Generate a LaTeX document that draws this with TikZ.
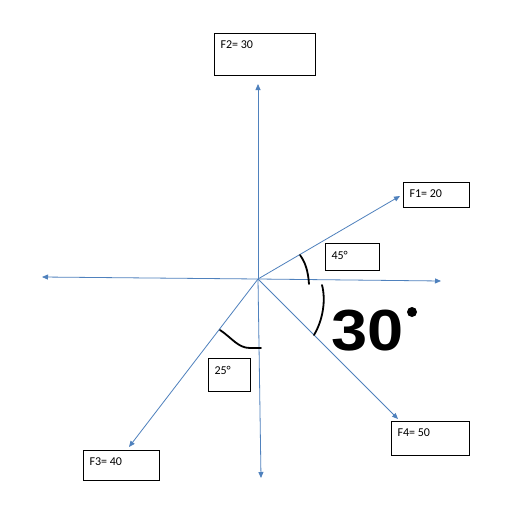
\documentclass[tikz,border=0pt]{standalone}
\usepackage{fontspec}
\setmainfont{Carlito}
\newfontfamily\handfont{Liberation Sans}
\usetikzlibrary{arrows.meta}
\definecolor{axisblue}{RGB}{79,129,189}
\tikzset{
  vec/.style={draw=axisblue, line width=0.8pt, -{Triangle[length=6pt,width=5pt]}},
  box/.style={draw=black, line width=0.8pt, anchor=north west, inner sep=0pt},
  lbl/.style={anchor=west, xshift=3pt, yshift=-12pt, font=\fontsize{12}{14}\selectfont},
  hand/.style={draw=black, line width=1.8pt, line cap=round}
}
\begin{document}
\begin{tikzpicture}[x=1pt,y=-1pt]
\useasboundingbox (0,0) rectangle (526,527);
\fill[white] (0,0) rectangle (526,527);
% origin and arrow ends
\coordinate (o) at (258,279);
\coordinate (xl) at (42,277);
\coordinate (xr) at (441,281);
\coordinate (yt) at (258,84);
\coordinate (yb) at (261,478);
\coordinate (e1) at (400,196);
\coordinate (e3) at (129,447);
\coordinate (e4) at (398,419);
\draw[vec] (o) -- (xl);
\draw[vec] (o) -- (xr);
\draw[vec] (o) -- (yt);
\draw[vec] (o) -- (yb);
\draw[vec] (o) -- (e1);
\draw[vec] (o) -- (e3);
\draw[vec] (o) -- (e4);
% boxes
\node[box, minimum width=101pt, minimum height=42pt, label={[lbl]north west:F2= 30}] (f2) at (214,33) {};
\node[box, minimum width=66pt, minimum height=25pt, label={[lbl]north west:F1= 20}] (f1) at (403,182) {};
\node[box, minimum width=54pt, minimum height=27pt, label={[lbl]north west:45°}] (a45) at (325,243) {};
\node[box, minimum width=42pt, minimum height=33pt, label={[lbl]north west:25°}] (a25) at (208,358) {};
\node[box, minimum width=76pt, minimum height=30pt, label={[lbl]north west:F3= 40}] (f3) at (83,450) {};
\node[box, minimum width=78pt, minimum height=34pt, label={[lbl]north west:F4= 50}] (f4) at (391,421) {};
% hand-drawn angle marks
\draw[hand] (300,255) .. controls (305,262) and (308,270) .. (309,284);
\draw[hand] (322,285) .. controls (326,300) and (323,320) .. (314,335);
\draw[hand] (220,330) .. controls (232,338) and (238,348) .. (250,348) -- (261,348);
\node[anchor=base west, inner sep=0pt, xscale=1.12, font=\handfont\fontsize{58}{58}\selectfont\bfseries] (t30) at (331,350) {30};
\fill[black] (412,312) circle (5pt);
\end{tikzpicture}
\end{document}
